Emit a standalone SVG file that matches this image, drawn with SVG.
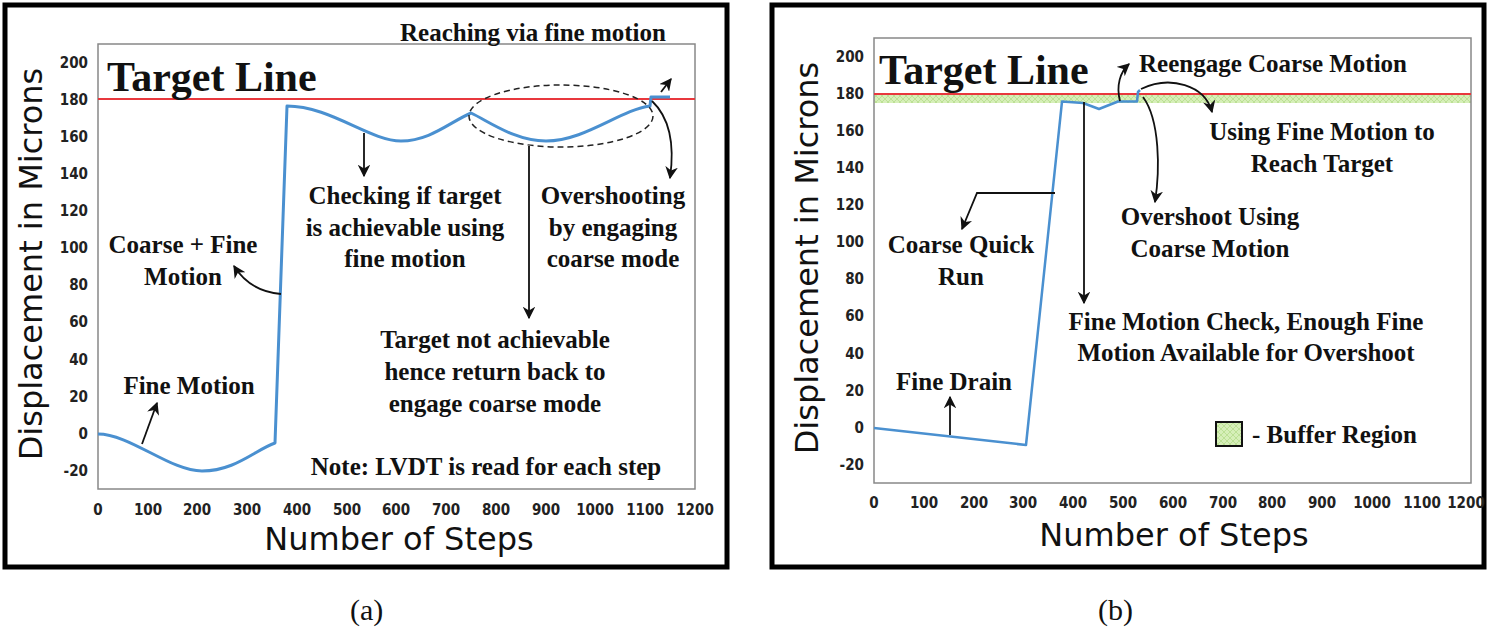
<svg xmlns="http://www.w3.org/2000/svg" width="1497" height="640" viewBox="0 0 1497 640">
<style>
.frame{fill:none;stroke:#000;stroke-width:5}
.ax{fill:none;stroke:#888;stroke-width:1.5}
.tk{font-family:"DejaVu Sans Condensed","DejaVu Sans",sans-serif;font-weight:bold;font-size:15px;fill:#222}
.ann{font-family:"Liberation Serif",serif;font-weight:bold;font-size:25px;fill:#111}
.big{font-family:"Liberation Serif",serif;font-weight:bold;font-size:42px;fill:#111}
.lab{font-family:"DejaVu Sans",sans-serif;font-size:32px;fill:#111}
.cap{font-family:"Liberation Serif",serif;font-size:30px;fill:#111}
.curve{fill:none;stroke:#4a90d0;stroke-width:3;stroke-linejoin:round}
.tgt{stroke:#e8383d;stroke-width:2}
.arr{fill:none;stroke:#111;stroke-width:1.8;marker-end:url(#ah)}
</style>
<defs>
<marker id="ah" viewBox="0 0 10 10" refX="9" refY="5" markerWidth="7" markerHeight="7" orient="auto"><path d="M0,0 L10,5 L0,10 L3,5 z" fill="#111"/></marker>
<pattern id="hatch" width="6" height="6" patternUnits="userSpaceOnUse"><rect width="6" height="6" fill="#d6efb8"/><path d="M0,0 L6,6 M6,0 L0,6" stroke="#b5dc8c" stroke-width="0.8"/></pattern>
</defs>
<rect width="1497" height="640" fill="#fff"/>

<g id="panel-a">
<rect class="frame" x="5" y="5" width="722" height="562"/>
<rect class="ax" x="98" y="44" width="597" height="445"/>
<g class="tk" text-anchor="end">
<text x="88" y="68">200</text><text x="88" y="105">180</text><text x="88" y="142">160</text><text x="88" y="179">140</text><text x="88" y="216">120</text><text x="88" y="253">100</text><text x="88" y="290">80</text><text x="88" y="327">60</text><text x="88" y="365">40</text><text x="88" y="402">20</text><text x="88" y="439">0</text><text x="88" y="476">-20</text>
</g>
<g class="tk" text-anchor="middle">
<text x="98" y="515">0</text><text x="148" y="515">100</text><text x="197" y="515">200</text><text x="247" y="515">300</text><text x="297" y="515">400</text><text x="347" y="515">500</text><text x="396" y="515">600</text><text x="446" y="515">700</text><text x="496" y="515">800</text><text x="546" y="515">900</text><text x="595" y="515">1000</text><text x="645" y="515">1100</text><text x="695" y="515">1200</text>
</g>
<text class="lab" text-anchor="middle" transform="translate(42,264) rotate(-90)">Displacement in Microns</text>
<text class="lab" text-anchor="middle" x="399" y="550">Number of Steps</text>
<line class="tgt" x1="98" y1="99" x2="695" y2="99"/>
<path class="curve" d="M98,434 C130,434 170,471 202,471 C235,471 255,450 275,443 L287,106 C330,106 370,141 401,141 C430,141 450,122 471,113 C490,122 515,141 546,141 C585,141 620,110 650,106 L651,97 L670,97"/>
<text class="big" x="107" y="91">Target Line</text>
<text class="ann" x="400" y="41">Reaching via fine motion</text>
<g class="ann" text-anchor="middle">
<text x="405" y="204">Checking if target</text><text x="405" y="236">is achievable using</text><text x="405" y="267">fine motion</text>
<text x="613" y="204">Overshooting</text><text x="613" y="236">by engaging</text><text x="613" y="267">coarse mode</text>
<text x="183" y="253">Coarse + Fine</text><text x="183" y="285">Motion</text>
<text x="189" y="394">Fine Motion</text>
<text x="495" y="348">Target not achievable</text><text x="495" y="380">hence return back to</text><text x="495" y="412">engage coarse mode</text>
<text x="486" y="475">Note: LVDT is read for each step</text>
</g>
<ellipse cx="561" cy="116" rx="92" ry="31" fill="none" stroke="#222" stroke-width="1.5" stroke-dasharray="6,4"/>
</g>

<g id="panel-b">
<rect class="frame" x="772" y="5" width="712" height="562"/>
<rect x="874" y="94" width="597" height="9" fill="url(#hatch)"/>
<rect class="ax" x="874" y="38" width="597" height="445"/>
<g class="tk" text-anchor="end">
<text x="864" y="62">200</text><text x="864" y="99">180</text><text x="864" y="136">160</text><text x="864" y="173">140</text><text x="864" y="210">120</text><text x="864" y="247">100</text><text x="864" y="284">80</text><text x="864" y="321">60</text><text x="864" y="359">40</text><text x="864" y="396">20</text><text x="864" y="433">0</text><text x="864" y="470">-20</text>
</g>
<g class="tk" text-anchor="middle">
<text x="874" y="508">0</text><text x="924" y="508">100</text><text x="974" y="508">200</text><text x="1023" y="508">300</text><text x="1073" y="508">400</text><text x="1123" y="508">500</text><text x="1173" y="508">600</text><text x="1223" y="508">700</text><text x="1272" y="508">800</text><text x="1322" y="508">900</text><text x="1372" y="508">1000</text><text x="1422" y="508">1100</text><text x="1466" y="508">1200</text>
</g>
<text class="lab" text-anchor="middle" transform="translate(818,258) rotate(-90)">Displacement in Microns</text>
<text class="lab" text-anchor="middle" x="1174" y="546">Number of Steps</text>
<line class="tgt" x1="874" y1="94" x2="1471" y2="94"/>
<path class="curve" style="stroke-width:2.5" d="M874,428 L1026,445 L1062,101.5 L1083,103 L1099,109 L1118,101.5 L1137,101.5 L1138,92 L1140,90"/>
<text class="big" x="879" y="84">Target Line</text>
<text class="ann" x="1139" y="72">Reengage Coarse Motion</text>
<g class="ann" text-anchor="middle">
<text x="1322" y="140">Using Fine Motion to</text><text x="1322" y="172">Reach Target</text>
<text x="1210" y="225">Overshoot Using</text><text x="1210" y="257">Coarse Motion</text>
<text x="961" y="253">Coarse Quick</text><text x="961" y="285">Run</text>
<text x="1246" y="330">Fine Motion Check, Enough Fine</text><text x="1246" y="361">Motion Available for Overshoot</text>
<text x="954" y="390">Fine Drain</text>
</g>
<rect x="1216" y="422" width="26" height="24" fill="url(#hatch)" stroke="#111" stroke-width="2"/>
<text class="ann" x="1252" y="443">- Buffer Region</text>
</g>

<g id="connectors">
<line class="arr" x1="364" y1="133" x2="364" y2="176"/>
<line class="arr" x1="529" y1="146" x2="529" y2="318"/>
<path class="arr" d="M281,294 C258,292 244,282 234,266"/>
<line class="arr" x1="142" y1="444" x2="157" y2="403"/>
<path class="arr" d="M652,101 C672,120 674,150 670,178"/>
<line class="arr" x1="661" y1="92" x2="671" y2="79"/>
<path class="arr" d="M1055,193 L977,193 L962,229"/>
<line class="arr" x1="1084" y1="102" x2="1084" y2="303"/>
<line class="arr" x1="950" y1="435" x2="950" y2="397"/>
<path class="arr" d="M1120,101 C1116,86 1120,72 1129,64"/>
<path class="arr" d="M1141,89 C1170,75 1205,85 1212,112"/>
<path class="arr" d="M1143,97 C1160,120 1160,170 1155,202"/>
</g>

<text class="cap" x="350" y="620">(a)</text>
<text class="cap" x="1098" y="620">(b)</text>
</svg>
